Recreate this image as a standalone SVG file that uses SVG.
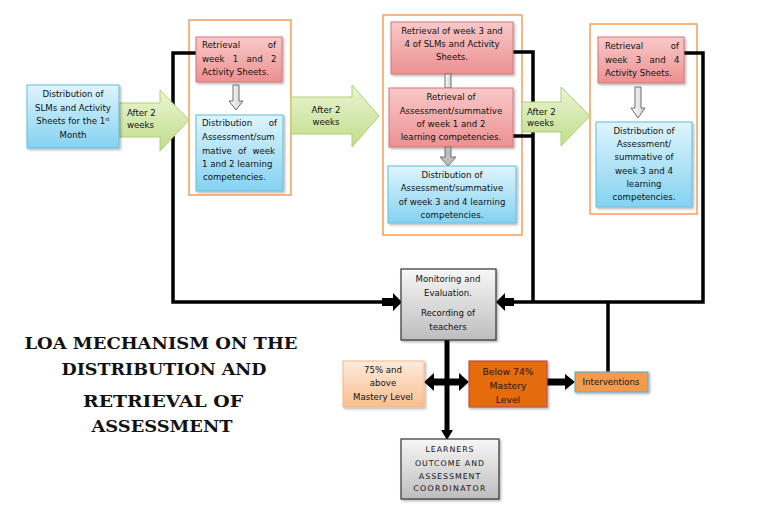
<svg xmlns="http://www.w3.org/2000/svg" width="768" height="518" viewBox="0 0 768 518">
<defs>
<linearGradient id="gPink" x1="0" y1="0" x2="0" y2="1"><stop offset="0" stop-color="#F9C9C9"/><stop offset="1" stop-color="#EC9090"/></linearGradient>
<linearGradient id="gBlue" x1="0" y1="0" x2="0" y2="1"><stop offset="0" stop-color="#DFF4FC"/><stop offset="1" stop-color="#84D2F1"/></linearGradient>
<linearGradient id="gGreen" x1="0" y1="0" x2="0" y2="1"><stop offset="0" stop-color="#EAF5D3"/><stop offset="1" stop-color="#C0DD8A"/></linearGradient>
<linearGradient id="gGray" x1="0" y1="0" x2="0" y2="1"><stop offset="0" stop-color="#F7F7F7"/><stop offset="1" stop-color="#BDBDBD"/></linearGradient>
<linearGradient id="gPeach" x1="0" y1="0" x2="0" y2="1"><stop offset="0" stop-color="#FDEBDC"/><stop offset="1" stop-color="#F9BE8C"/></linearGradient>
<linearGradient id="gHollow" x1="0" y1="0" x2="1" y2="0"><stop offset="0" stop-color="#FFFFFF"/><stop offset="1" stop-color="#D0D0D0"/></linearGradient>
<filter id="sh" x="-10%" y="-10%" width="130%" height="130%"><feDropShadow dx="1.5" dy="1.5" stdDeviation="1" flood-color="#000" flood-opacity="0.3"/></filter>
</defs>
<style>
.t{font-family:"DejaVu Sans","Liberation Sans",sans-serif;font-size:8.6px;fill:#111}
.c{text-anchor:middle}
.e{text-anchor:end}
.pink{fill:url(#gPink);stroke:#D57676;stroke-width:1}
.blue{fill:url(#gBlue);stroke:#62BEDD;stroke-width:1}
.green{fill:url(#gGreen);stroke:#AFCF75;stroke-width:1}
.gray{fill:url(#gGray);stroke:#333;stroke-width:1.2}
.frame{fill:#fff;stroke:#F5A05A;stroke-width:1.5}
.hol{fill:url(#gHollow);stroke:#6E6E6E;stroke-width:1}
.ln{fill:none;stroke:#000;stroke-width:3.5}
.hd{fill:#000}
.title{font-family:"DejaVu Serif","Liberation Serif",serif;font-weight:bold;font-size:17px;fill:#111;text-anchor:middle}
</style>
<rect width="768" height="518" fill="#fff"/>

<g id="frames">
<rect class="frame" x="189" y="20" width="102" height="175"/>
<rect class="frame" x="383" y="15" width="139" height="220"/>
<rect class="frame" x="590" y="24" width="107" height="190"/>
</g>

<g id="connectors">
<polyline class="ln" points="196,53 173,53 173,302 384,302"/>
<path class="hd" d="M382,298 L393,298 L393,293 L402,302 L393,311 L393,306 L382,306 Z"/>
<polyline class="ln" points="513,52 533,52 533,302"/>
<polyline class="ln" points="513,136 533,136"/>
<polyline class="ln" points="684,53 703,53 703,302 512,302"/>
<path class="hd" d="M514,298 L505,298 L505,293 L496,302 L505,311 L505,306 L514,306 Z"/>
<polyline class="ln" points="608,302 608,372"/>
<line x1="447" y1="340" x2="447" y2="432" stroke="#000" stroke-width="5"/>
<path class="hd" d="M441,430 L453,430 L447,440 Z"/>
<line x1="432" y1="382" x2="461" y2="382" stroke="#000" stroke-width="7"/>
<path class="hd" d="M424,382 L434,373 L434,391 Z M469,382 L459,373 L459,391 Z"/>
<line x1="547" y1="382" x2="566" y2="382" stroke="#000" stroke-width="7"/>
<path class="hd" d="M575,382 L565,374 L565,390 Z"/>
</g>

<g id="arrow1">
<path class="green" d="M119,103 L160,103 L160,90 L189,120 L160,151 L160,137 L119,137 Z"/>
<text class="t" x="127" y="116">After 2</text>
<text class="t" x="127" y="128">weeks</text>
</g>
<g id="arrow2">
<path class="green" d="M291,97 L352,97 L352,85 L379,116 L352,147 L352,134 L291,134 Z"/>
<text class="t c" x="326" y="113">After 2</text>
<text class="t c" x="326" y="125">weeks</text>
</g>
<g id="arrow3">
<path class="green" d="M522,102 L561,102 L561,87 L590,116 L561,146 L561,132 L522,132 Z"/>
<text class="t" x="527" y="115">After 2</text>
<text class="t" x="527" y="126">weeks</text>
</g>

<g id="dist-slm">
<rect class="blue" x="27" y="85" width="92" height="63" filter="url(#sh)"/>
<text class="t c" x="73" y="97">Distribution of</text>
<text class="t c" x="73" y="111">SLMs and Activity</text>
<text class="t c" x="73" y="124">Sheets for the 1<tspan font-size="5" dy="-3">st</tspan></text>
<text class="t c" x="73" y="138">Month</text>
</g>

<g id="c1-retrieval">
<rect class="pink" x="196" y="37" width="86" height="45" filter="url(#sh)"/>
<text class="t" x="202" y="48">Retrieval</text>
<text class="t e" x="276" y="48">of</text>
<text class="t" x="202" y="62" style="word-spacing:5.5px">week 1 and 2</text>
<text class="t" x="202" y="75">Activity Sheets.</text>
</g>
<g id="c1-arrow">
<path class="hol" d="M233,85 L239,85 L239,101 L243,101 L236,110 L229,101 L233,101 Z"/>
</g>
<g id="c1-distribution">
<rect class="blue" x="196" y="115" width="87" height="76" filter="url(#sh)"/>
<text class="t" x="202" y="126">Distribution</text>
<text class="t e" x="277" y="126">of</text>
<text class="t" x="202" y="140">Assessment/sum</text>
<text class="t" x="202" y="154" style="word-spacing:3.5px">mative of week</text>
<text class="t" x="202" y="167">1 and 2 learning</text>
<text class="t" x="203" y="180">competencies.</text>
</g>

<g id="c2-retrieval-slm">
<rect class="pink" x="391" y="22" width="122" height="52" filter="url(#sh)"/>
<text class="t c" x="452" y="34">Retrieval of week 3 and</text>
<text class="t c" x="452" y="47">4 of SLMs and Activity</text>
<text class="t c" x="452" y="60">Sheets.</text>
</g>
<g id="c2-arrow1">
<rect class="hol" x="445" y="74" width="6" height="14"/>
</g>
<g id="c2-retrieval-assess">
<rect class="pink" x="389" y="88" width="124" height="59" filter="url(#sh)"/>
<text class="t c" x="451" y="100">Retrieval of</text>
<text class="t c" x="451" y="114">Assessment/summative</text>
<text class="t c" x="451" y="127">of week 1 and 2</text>
<text class="t c" x="451" y="140">learning competencies.</text>
</g>
<g id="c2-arrow2">
<path d="M445,147 L451,147 L451,157 L456,157 L448,166 L440,157 L445,157 Z" fill="#BDBDBD" stroke="#6E6E6E" stroke-width="1"/>
</g>
<g id="c2-distribution">
<rect class="blue" x="388" y="166" width="128" height="57" filter="url(#sh)"/>
<text class="t c" x="452" y="178">Distribution of</text>
<text class="t c" x="452" y="191">Assessment/summative</text>
<text class="t c" x="452" y="205">of week 3 and 4 learning</text>
<text class="t c" x="452" y="218">competencies.</text>
</g>

<g id="c3-retrieval">
<rect class="pink" x="598" y="37" width="86" height="46" filter="url(#sh)"/>
<text class="t" x="605" y="49">Retrieval</text>
<text class="t e" x="679" y="49">of</text>
<text class="t" x="605" y="63" style="word-spacing:5.5px">week 3 and 4</text>
<text class="t" x="605" y="76">Activity Sheets.</text>
</g>
<g id="c3-arrow">
<path class="hol" d="M635,87 L641,87 L641,108 L645,108 L638,118 L631,108 L635,108 Z"/>
</g>
<g id="c3-distribution">
<rect class="blue" x="596" y="122" width="96" height="85" filter="url(#sh)"/>
<text class="t c" x="644" y="134">Distribution of</text>
<text class="t c" x="644" y="147">Assessment/</text>
<text class="t c" x="644" y="160">summative of</text>
<text class="t c" x="644" y="174">week 3 and 4</text>
<text class="t c" x="644" y="187">learning</text>
<text class="t c" x="644" y="200">competencies.</text>
</g>

<g id="monitoring">
<rect class="gray" x="401" y="269" width="95" height="71" filter="url(#sh)"/>
<text class="t c" x="448" y="282">Monitoring and</text>
<text class="t c" x="448" y="296">Evaluation.</text>
<text class="t c" x="448" y="316">Recording of</text>
<text class="t c" x="448" y="330">teachers</text>
</g>

<g id="mastery-above">
<rect x="343" y="361" width="81" height="46" fill="url(#gPeach)" stroke="#F6B98A" stroke-width="1" filter="url(#sh)"/>
<text class="t c" x="383" y="373">75% and</text>
<text class="t c" x="383" y="386">above</text>
<text class="t c" x="383" y="400">Mastery Level</text>
</g>

<g id="mastery-below">
<rect x="469" y="361" width="78" height="46" fill="#E46C0A" stroke="#C0504D" stroke-width="1.2" filter="url(#sh)"/>
<text class="t c" x="508" y="375" style="font-size:9.2px;fill:#2a1200">Below 74%</text>
<text class="t c" x="508" y="389" style="font-size:9.2px;fill:#2a1200">Mastery</text>
<text class="t c" x="508" y="403" style="font-size:9.2px;fill:#2a1200">Level</text>
</g>

<g id="interventions">
<rect x="575" y="372" width="73" height="20" fill="#F59A4E" stroke="#5FB3CC" stroke-width="1.2" filter="url(#sh)"/>
<text class="t c" x="611" y="385">Interventions</text>
</g>

<g id="coordinator">
<rect class="gray" x="401" y="439" width="98" height="60" filter="url(#sh)"/>
<text class="t c" x="450" y="452" style="font-size:7.8px;letter-spacing:1px">LEARNERS</text>
<text class="t c" x="450" y="466" style="font-size:7.8px;letter-spacing:1px">OUTCOME AND</text>
<text class="t c" x="450" y="479" style="font-size:7.8px;letter-spacing:1px">ASSESSMENT</text>
<text class="t c" x="450" y="491" style="font-size:7.8px;letter-spacing:1.4px">COORDINATOR</text>
</g>

<g id="title">
<text class="title" x="161" y="349" textLength="273" lengthAdjust="spacingAndGlyphs">LOA MECHANISM ON THE</text>
<text class="title" x="164" y="375" textLength="205" lengthAdjust="spacingAndGlyphs">DISTRIBUTION AND</text>
<text class="title" x="163" y="407" textLength="160" lengthAdjust="spacingAndGlyphs">RETRIEVAL OF</text>
<text class="title" x="162" y="432" textLength="141" lengthAdjust="spacingAndGlyphs">ASSESSMENT</text>
</g>
</svg>
